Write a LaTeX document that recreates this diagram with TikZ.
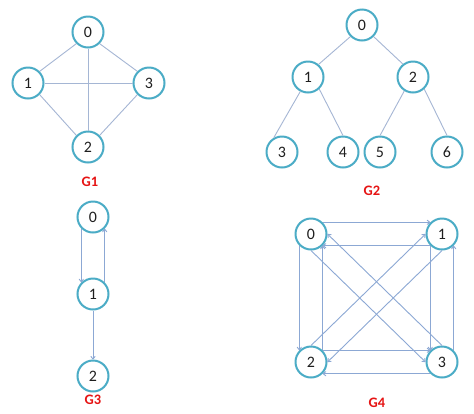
\documentclass[tikz,border=0pt]{standalone}
\usepackage{fontspec}
\setmainfont{Carlito}
\usetikzlibrary{arrows.meta}
\definecolor{ring}{RGB}{75,172,198}
\definecolor{edgec}{RGB}{165,182,212}
\definecolor{arrc}{RGB}{140,168,212}
\definecolor{lblred}{RGB}{230,20,20}
\definecolor{digit}{RGB}{30,30,30}
\tikzset{
  vtx/.style={circle,draw=ring,line width=2bp,fill=white,minimum size=31bp,inner sep=0pt,
    font=\fontsize{16}{16}\selectfont,text=digit},
  und/.style={draw=edgec,line width=0.9bp},
  arc/.style={draw=arrc,line width=0.9bp,-{To[length=3.5bp,width=5bp]}},
  glabel/.style={font=\fontsize{14.5}{14.5}\selectfont\bfseries,text=lblred}
}
\begin{document}
\begin{tikzpicture}[x=1bp,y=-1bp]
\useasboundingbox[fill=white] (0,0) rectangle (474,413);
% G1
\node[vtx] (a0) at (88,32) {0};
\node[vtx] (a1) at (28,83) {1};
\node[vtx] (a3) at (149,83) {3};
\node[vtx] (a2) at (88,147) {2};
\node[glabel] (g1) at (90,182) {G1};
\draw[und] (a0.225) -- (a1.45);
\draw[und] (a0.-45) -- (a3.135);
\draw[und] (a0.south) -- (a2.north);
\draw[und] (a1.east) -- (a3.west);
\draw[und] (a1.-45) -- (a2.135);
\draw[und] (a3.225) -- (a2.45);
% G2
\node[vtx] (b0) at (362,25) {0};
\node[vtx] (b1) at (308,77) {1};
\node[vtx] (b2) at (413,77) {2};
\node[vtx] (b3) at (282,152) {3};
\node[vtx] (b4) at (343,152) {4};
\node[vtx] (b5) at (380,152) {5};
\node[vtx] (b6) at (447,152) {6};
\node[glabel] (g2) at (372,191) {G2};
\draw[und] (b0.225) -- (b1.50);
\draw[und] (b0.-45) -- (b2.128);
\draw[und] (b1.-118) -- (b3.120);
\draw[und] (b1.-47) -- (b4.north);
\draw[und] (b2.-122) -- (b5.north);
\draw[und] (b2.-47) -- (b6.north);
% G3
\node[vtx] (c0) at (93,217) {0};
\node[vtx] (c1) at (93,294) {1};
\node[vtx] (c2) at (93,376) {2};
\node[glabel] (g3) at (93,400) {G3};
\draw[arc] (c0.225) -- (c1.135);
\draw[arc] (c1.45) -- (c0.-45);
\draw[arc] (c1.south) -- (c2.north);
% G4
\node[vtx] (d0) at (311,234) {0};
\node[vtx] (d1) at (442,234) {1};
\node[vtx] (d2) at (311,362) {2};
\node[vtx] (d3) at (442,362) {3};
\node[glabel] (g4) at (377,403) {G4};
\draw[arc] (d0.45) -- (d1.135);
\draw[arc] (d0.225) -- (d2.135);
\draw[arc] (d3.45) -- (d1.-45);
\draw[arc] (d3.225) -- (d2.-45);
\draw[arc] (d1.225) -- (d0.-45);
\draw[arc] (d2.45) -- (d0.-45);
\draw[arc] (d1.225) -- (d3.135);
\draw[arc] (d2.45) -- (d3.135);
\draw[arc] (d0.south) -- (d3.west);
\draw[arc] (d3.north) -- (d0.east);
\draw[arc] (d2.north) -- (d1.west);
\draw[arc] (d1.south) -- (d2.east);
\end{tikzpicture}
\end{document}
